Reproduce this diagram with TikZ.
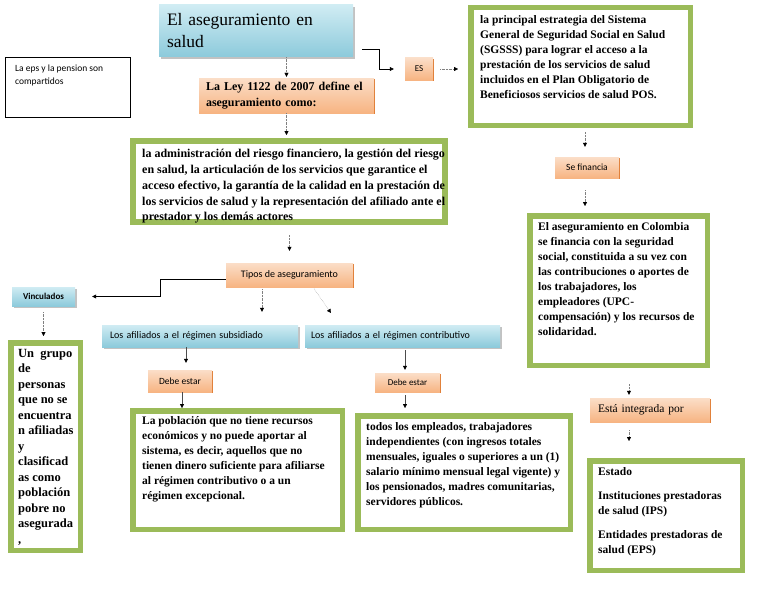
\documentclass[tikz,border=0pt]{standalone}
\usepackage{fontspec}
\setmainfont{Liberation Serif}
\newfontfamily\calibri{Carlito}
\usepackage{tikz}
\usetikzlibrary{arrows.meta}
\usetikzlibrary{calc}
\usetikzlibrary{shadows}
\usepackage{xcolor}
\definecolor{verdeolivo}{RGB}{155,187,89}
\definecolor{durazno}{RGB}{251,222,200}
\definecolor{duraznoosc}{RGB}{247,180,130}
\definecolor{naranjaborde}{RGB}{222,120,45}
\definecolor{celeste}{RGB}{208,236,243}
\definecolor{celesteosc}{RGB}{140,202,219}

\tikzset{
  verde/.style={draw=verdeolivo,line width=5.5pt,fill=white,inner sep=0pt},
  duraznobox/.style={top color=durazno,bottom color=duraznoosc,inner sep=0pt,
    drop shadow={shadow xshift=1.3pt,shadow yshift=-1.3pt,fill=naranjaborde,opacity=1}},
  celestebox/.style={top color=celeste,bottom color=celesteosc,inner sep=0pt,
    drop shadow={shadow xshift=1.6pt,shadow yshift=-1.6pt,fill=gray!80,opacity=0.6}},
  texto/.style={anchor=north west,inner sep=0pt,align=left,font=\bfseries\fontsize{11.5}{15}\selectfont},
  punteada/.style={densely dotted,gray,-{Triangle[length=4pt,width=4pt,color=black]}},
  fina/.style={thin,gray!60!black,-{Triangle[length=4pt,width=4pt,color=black]}},
  codo/.style={semithick,black,-{Triangle[length=4pt,width=4pt]}}
}

\begin{document}
\begin{tikzpicture}[x=1pt,y=-1pt]
	\useasboundingbox (0,0) rectangle (768,594);
	% cajas de arriba
	\node(titulo) at (256,31)[celestebox,minimum width=194pt,minimum height=52pt,text width=178pt,align=left,font=\fontsize{17.5}{22}\selectfont]{El aseguramiento en\\salud};
	\node(eps) at (67.5,87)[draw,thin,fill=white,minimum width=125pt,minimum height=60pt]{};
	\node(epstxt) at (15,65)[anchor=north west,inner sep=0pt,align=left,font=\calibri\fontsize{9.5}{12.5}\selectfont]{La eps y la pension son\\compartidos};
	\node(ley) at (286.5,95.5)[duraznobox,minimum width=175pt,minimum height=35pt,text width=161pt,align=left,font=\bfseries\fontsize{12}{15.5}\selectfont]{La Ley 1122 de 2007 define el\\aseguramiento como:};
	\node(es) at (419,69)[duraznobox,minimum width=28pt,minimum height=22pt,font=\calibri\fontsize{9}{11}\selectfont]{ES};
	\node(estrategia) at (580.5,66.5)[verde,minimum width=219.5pt,minimum height=117.5pt]{};
	\node(estrategiatxt) at (480,15)[texto]{la principal estrategia del Sistema\\General de Seguridad Social en Salud\\(SGSSS) para lograr el acceso a la\\prestación de los servicios de salud\\incluidos en el Plan Obligatorio de\\Beneficiosos servicios de salud POS.};
	
	% definicion
	\node(riesgo) at (289,181.5)[verde,line width=6pt,minimum width=312pt,minimum height=81pt]{};
	\begin{scope}
		\clip ([shift={(3pt,-3pt)}]riesgo.north west) rectangle ([shift={(-3pt,3pt)}]riesgo.south east);
		\node(riesgotxt) at (142,149)[texto,font=\bfseries\fontsize{12}{15.8}\selectfont]{la administración del riesgo financiero, la gestión del riesgo\\en salud, la articulación de los servicios que garantice el\\acceso efectivo, la garantía de la calidad en la prestación de\\los servicios de salud y la representación del afiliado ante el\\prestador y los demás actores};
	\end{scope}
	
	% tipos
	\node(tipos) at (289.5,275)[duraznobox,minimum width=127pt,minimum height=24pt,font=\calibri\fontsize{10}{12}\selectfont]{Tipos de aseguramiento};
	\node(vinculados) at (43.5,296.5)[celestebox,minimum width=63pt,minimum height=19pt,font=\calibri\bfseries\fontsize{9}{11}\selectfont]{Vinculados};
	\node(vinc) at (45.5,446.5)[verde,minimum width=69.5pt,minimum height=207.5pt]{};
	\node(vinctxt) at (18,349)[texto,font=\bfseries\fontsize{12.5}{15.5}\selectfont]{Un \ grupo\\de\\personas\\que no se\\encuentra\\n afiliadas\\y\\clasificad\\as como\\población\\pobre no\\asegurada\\,};
	\node(subsidiado) at (200,336)[celestebox,minimum width=196pt,minimum height=22pt,text width=180pt,align=left,font=\calibri\fontsize{10}{11}\selectfont]{Los afiliados a el régimen subsidiado};
	\node(contributivo) at (402.5,336)[celestebox,minimum width=195pt,minimum height=22pt,text width=183pt,align=left,font=\calibri\fontsize{10}{11}\selectfont]{Los afiliados a el régimen contributivo};
	\node(debe1) at (180,381)[duraznobox,minimum width=64pt,minimum height=22pt,font=\calibri\fontsize{9.5}{11}\selectfont]{Debe estar};
	\node(debe2) at (407.5,382.5)[duraznobox,minimum width=65pt,minimum height=19pt,font=\calibri\fontsize{9}{11}\selectfont]{Debe estar};
	\node(sub) at (237.5,470)[verde,minimum width=209.5pt,minimum height=118.5pt]{};
	\node(subtxt) at (142,416)[texto]{La población que no tiene recursos\\económicos y no puede aportar al\\sistema, es decir, aquellos que no\\tienen dinero suficiente para afiliarse\\al régimen contributivo o a un\\régimen excepcional.};
	\node(contrib) at (464,472.5)[verde,minimum width=212.5pt,minimum height=113.5pt]{};
	\node(contribtxt) at (366,422)[texto]{todos los empleados, trabajadores\\independientes (con ingresos totales\\mensuales, iguales o superiores a un (1)\\salario mínimo mensual legal vigente) y\\los pensionados, madres comunitarias,\\servidores públicos.};
	
	% columna derecha
	\node(financia) at (587,167.5)[duraznobox,minimum width=64pt,minimum height=21pt,font=\calibri\fontsize{9.5}{11}\selectfont]{Se financia};
	\node(colombia) at (618.5,290.5)[verde,minimum width=177.5pt,minimum height=149.5pt]{};
	\node(colombiatxt) at (538,222)[texto]{El aseguramiento en Colombia\\se financia con la seguridad\\social, constituida a su vez con\\las contribuciones o aportes de\\los trabajadores, los\\empleadores (UPC-\\compensación) y los recursos de\\solidaridad.};
	\node(integrada) at (650,410)[duraznobox,minimum width=120pt,minimum height=24pt,text width=104pt,align=left,font=\fontsize{11.5}{13}\selectfont]{Está integrada por};
	\node(final) at (666,515.5)[verde,minimum width=152.5pt,minimum height=109.5pt]{};
	\node(finaltxt) at (598,467)[texto]{Estado\\[9pt]Instituciones prestadoras\\de salud (IPS)\\[9pt]Entidades prestadoras de\\salud (EPS)};
	
	% conectores
	\coordinate(codo1) at (379,49);
	\draw[codo,shorten <=9pt,shorten >=11pt] (titulo.east |- codo1) -- (codo1) |- (es.west);
	\draw[punteada,shorten <=7pt,shorten >=10pt] (es.east) -- (es.east -| estrategia.west);
	\draw[punteada,shorten >=1pt] (ley.north |- titulo.south) -- (ley.north);
	\draw[punteada,shorten >=3pt] (ley.south) -- (ley.south |- riesgo.north);
	\draw[punteada,shorten <=10pt,shorten >=12pt] (riesgo.south -| tipos.north) -- (tipos.north);
	\coordinate(codo2) at (160,279);
	\draw[codo,shorten >=17pt] (tipos.west |- codo2) -- (codo2) |- (vinculados.east);
	\coordinate(t1) at (262,0);
	\coordinate(t2) at (313,0);
	\coordinate(t3) at (331,313);
	\draw[punteada,shorten <=2pt,shorten >=13pt] (tipos.south -| t1) -- (t1 |- subsidiado.north);
	\draw[punteada,shorten <=2pt] (tipos.south -| t2) -- (t3);
	\draw[punteada,shorten <=6pt,shorten >=4pt] (vinculados.south) -- (vinculados.south |- vinc.north);
	\coordinate(s1) at (186,0);
	\coordinate(s2) at (182,0);
	\coordinate(c1) at (405,0);
	\draw[fina,shorten >=7pt] (subsidiado.south -| s1) -- (s1 |- debe1.north);
	\draw[fina] (debe1.south -| s2) -- (s2 |- sub.north);
	\draw[fina,shorten <=3pt,shorten >=3pt] (contributivo.south -| c1) -- (c1 |- debe2.north);
	\draw[fina,shorten <=3pt,shorten >=5pt] (debe2.south -| c1) -- (c1 |- contrib.north);
	\coordinate(d1) at (585,0);
	\coordinate(d2) at (629,0);
	\draw[punteada,shorten <=4pt,shorten >=10pt] (estrategia.south -| d1) -- (d1 |- financia.north);
	\draw[punteada,shorten <=12pt,shorten >=7pt] (financia.south -| d1) -- (d1 |- colombia.north);
	\draw[punteada,shorten <=16pt,shorten >=3pt] (colombia.south -| d2) -- (d2 |- integrada.north);
	\draw[punteada,shorten <=8pt,shorten >=17pt] (integrada.south -| d2) -- (d2 |- final.north);
\end{tikzpicture}
\end{document}
